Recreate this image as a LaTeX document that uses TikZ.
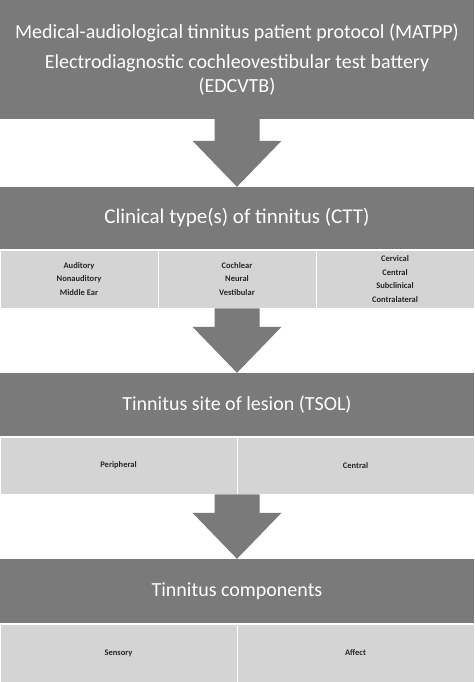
\documentclass[tikz,border=0pt]{standalone}
\usepackage{fontspec}
\setmainfont{Carlito}
\usetikzlibrary{calc}
\definecolor{darkg}{HTML}{7A7A7A}
\definecolor{lightg}{HTML}{D4D4D4}
\tikzset{
  x=1pt,y=1pt,
  darkbox/.style={fill=darkg, draw=none, inner sep=0pt, minimum width=474pt, text=white,
    font=\fontsize{20}{24}\selectfont, align=center},
  cell/.style={fill=lightg, draw=white, line width=0.8pt, inner sep=0pt, align=center,
    font=\fontsize{8.5}{13.5}\selectfont\bfseries, text=black!85},
  blockarrow/.style={fill=darkg, draw=none}
}
\newcommand\blockarr[2]{%
  \fill[blockarrow] ($(#1)+(-22.5,0)$) -- ($(#1)+(22.5,0)$) -- ($(#2)+(22.5,46)$)
    -- ($(#2)+(44.5,46)$) -- (#2) -- ($(#2)+(-44.5,46)$) -- ($(#2)+(-22.5,46)$) -- cycle;}
\begin{document}
\begin{tikzpicture}
\useasboundingbox[fill=white] (0,0) rectangle (474,-682);
% dark boxes
\node[darkbox, minimum height=119pt] (b1) at (237,-59.5)
  {Medical-audiological tinnitus patient protocol (MATPP)\\[6pt]
   Electrodiagnostic cochleovestibular test battery\\(EDCVTB)};
\node[darkbox, minimum height=62pt, font=\fontsize{21}{24}\selectfont] (b2) at (237,-218) {Clinical type(s) of tinnitus (CTT)};
\node[darkbox, minimum height=63pt] (b3) at (237,-404.5) {Tinnitus site of lesion (TSOL)};
\node[darkbox, minimum height=64pt] (b4) at (237,-591) {Tinnitus components};
% row 1
\node[cell, minimum width=158pt, minimum height=58pt] (c11) at (79,-279) {Auditory\\Nonauditory\\Middle Ear};
\node[cell, minimum width=158pt, minimum height=58pt] (c12) at (237,-279) {Cochlear\\Neural\\Vestibular};
\node[cell, minimum width=158pt, minimum height=58pt] (c13) at (395,-279) {Cervical\\Central\\Subclinical\\Contralateral};
% row 2
\node[cell, minimum width=237pt, minimum height=57pt] (c21) at (118.5,-465.5) {Peripheral};
\node[cell, minimum width=237pt, minimum height=57pt] (c22) at (355.5,-465.5) {Central};
% row 3
\node[cell, minimum width=237pt, minimum height=58pt] (c31) at (118.5,-653) {Sensory};
\node[cell, minimum width=237pt, minimum height=58pt] (c32) at (355.5,-653) {Affect};
% arrows
\blockarr{b1.south}{b2.north}
\blockarr{c12.south}{b3.north}
\coordinate (r2s) at ($(c21.south east)!0.5!(c22.south west)$);
\blockarr{r2s}{b4.north}
\end{tikzpicture}
\end{document}
